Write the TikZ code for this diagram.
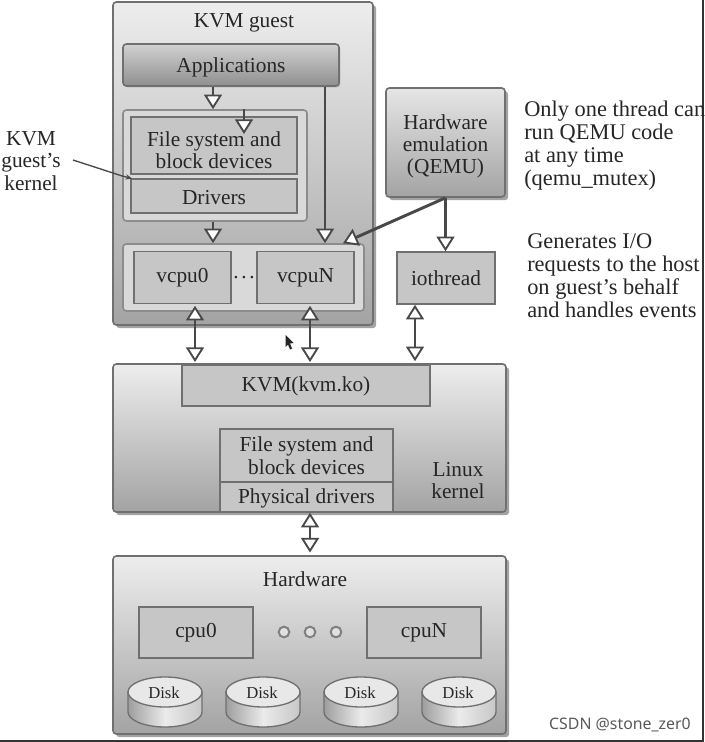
\documentclass[tikz,border=0pt]{standalone}
\usepackage{fontspec}
\setmainfont{Liberation Serif}
\setsansfont{Noto Sans}
\usetikzlibrary{arrows.meta,shadows}
\definecolor{edge}{HTML}{707070}
\definecolor{wire}{HTML}{484848}
\definecolor{inner}{HTML}{C6C6C6}
\tikzset{
  x=0.75pt,y=-0.75pt,
  opentip/.tip={Triangle[open,fill=white,length=11pt,width=13.5pt,line width=1.4pt]},
  lbl/.style={font=\fontsize{16}{16.8}\selectfont,text=black!85,align=center,inner sep=0pt},
  note/.style={font=\fontsize{16.8}{17.2}\selectfont,text=black!85,align=left,inner sep=0pt,anchor=north west},
  boxbase/.style={draw=edge,line width=1.2pt,inner sep=0pt,font=\fontsize{16}{16.8}\selectfont,text=black!85,align=center},
  sized/.style n args={2}{minimum width=#1*0.75pt,minimum height=#2*0.75pt},
  strutted/.style={execute at begin node={\rule{0pt}{#1}}},
  outerbox/.style={boxbase,rounded corners=2.5pt,top color=#1,bottom color=black!36,
    drop shadow={shadow xshift=2.4pt,shadow yshift=-2.4pt,fill=black!55,opacity=.65}},
  outerbox/.default=black!7,
  groupbox/.style={boxbase,rounded corners=2.5pt,fill=black!15,draw=black!45},
  flatbox/.style={boxbase,fill=inner},
  link/.style={draw=wire,line width=2.2pt,-opentip},
  duplex/.style={draw=wire,line width=2.2pt,opentip-opentip},
  thinlink/.style={draw=wire,line width=1pt,-{Stealth[length=5pt,width=4pt]}},
  port/.style={circle,draw=black!50,fill=black!12,line width=1.5pt,minimum size=8pt,inner sep=0pt},
}
\begin{document}
\begin{tikzpicture}
\useasboundingbox (0,0) rectangle (704,742);
\fill[white] (0,0) rectangle (704,742);
% frame edges of the screen capture
\fill[black!80] (702,0) rectangle (704,742);
\fill[black!80] (0,739.5) rectangle (704,742);

% KVM guest
\node[outerbox,sized={260}{323}] (guest) at (243,163.5) {};
\node[lbl] (guesttitle) at (244,23) {KVM guest};
\node[boxbase,strutted=14pt,rounded corners=2.5pt,top color=black!18,bottom color=black!44,sized={216}{42},
  drop shadow={shadow xshift=1pt,shadow yshift=-1pt,fill=black!45,opacity=.5}] (apps) at (231,65) {Applications};
\node[groupbox,sized={184}{111}] (kgroup) at (215,165.5) {};
\node[flatbox,sized={166}{57}] (fs) at (214,145.5) {\rule{0pt}{18.5pt}File system and\\block devices};
\node[flatbox,strutted=12.5pt,sized={166}{34}] (drv) at (214,196) {Drivers};
\node[groupbox,sized={241}{67}] (vgroup) at (243.5,277.5) {};
\node[flatbox,sized={97}{52}] (v0) at (182.5,277.5) {vcpu0};
\node[flatbox,sized={97}{52}] (vn) at (305.5,277.5) {vcpuN};
\node[lbl] (vdots) at (244,278) {.\hspace{2pt}.\hspace{2pt}.};

% QEMU, iothread
\node[outerbox=black!10,sized={119}{109}] (qemu) at (445.5,142.5) {\rule{0pt}{17pt}Hardware\\emulation\\(QEMU)};
\node[flatbox,sized={98}{52}] (io) at (446,278) {iothread};

% Host kernel
\node[outerbox,sized={393}{148}] (kvm) at (309.5,438) {};
\node[flatbox,strutted=12.5pt,sized={248}{41},anchor=north] (ko) at (306,364) {KVM(kvm.ko)};
\node[flatbox,sized={173}{53}] (hfs) at (306.5,455.5) {File system and\\block devices};
\node[flatbox,strutted=12.5pt,sized={173}{30}] (phys) at (306.5,497) {Physical drivers};
\node[lbl] (linux) at (458,480.5) {Linux\\kernel};

% Hardware
\node[outerbox,sized={393}{178}] (hw) at (309.5,645) {};
\node[lbl] (hwtitle) at (305,579) {Hardware};
\node[flatbox,sized={114}{51}] (c0) at (196,632.5) {cpu0};
\node[flatbox,sized={114}{51}] (cn) at (424,632.5) {cpuN};
\node[port] (d1) at (284,632) {};
\node[port] (d2) at (310,632) {};
\node[port] (d3) at (336,632) {};
\foreach \cx/\nm in {165/a,263/b,361/c,459/d}{
  \draw[draw=edge,line width=1pt,left color=black!38,right color=black!22,middle color=black!8]
    (\cx-37,692) -- (\cx-37,712) arc[start angle=180,end angle=0,x radius=37,y radius=15] -- (\cx+37,692) -- cycle;
  \draw[draw=edge,line width=1pt,fill=black!9] (\cx,692) ellipse[x radius=37,y radius=15];
  \node[font=\fontsize{12.5}{13}\selectfont,text=black!85,inner sep=0pt] (disk\nm) at (\cx-1,693) {Disk};
}

% Connectors
\draw[link] (213,0 |- apps.south) -- (213,0 |- kgroup.north);
\draw[link] (244,0 |- kgroup.north) -- (244,134);
\draw[link] (213,0 |- kgroup.south) -- (213,0 |- vgroup.north);
\draw[link] (325,0 |- apps.south) -- (325,0 |- vgroup.north);
\draw[link] (qemu.south) -- (343,0 |- vgroup.north);
\draw[link] (qemu.south) -- (qemu.south |- io.north);
\draw[duplex,shorten <=-4.5pt,shorten >=1.5pt] (195,0 |- vgroup.south) -- (195,0 |- ko.north);
\draw[duplex,shorten <=-4.5pt,shorten >=1.5pt] (310,0 |- vgroup.south) -- (310,0 |- ko.north);
\draw[duplex,shorten >=1.5pt] (415,0 |- io.south) -- (415,0 |- kvm.north);
\draw[duplex,shorten >=2pt] (310,0 |- kvm.south) -- (310,0 |- hw.north);

% Side labels
\node[lbl] (kk) at (31,161) {KVM\\guest's\\kernel};
\coordinate (kkstart) at (73,160);
\draw[thinlink] (kkstart) -- (kgroup.west |- 0,176) -- ++(10,2.6);

\node[note] (n1) at (524,100.5) {Only one thread can\\run QEMU code\\at any time\\(qemu\_mutex)};
\node[note] (n2) at (527,233.5) {Generates I/O\\requests to the host\\on guest's behalf\\and handles events};

% Pointer
\fill[black!85] (285.5,335) -- (285.5,347) -- (288,344.5) -- (290,349.5) -- (292,348.5) -- (290,343.5) -- (293.5,343) -- cycle;

% Watermark
\node[font=\fontsize{11.9}{13}\selectfont\sffamily,text=black!65,anchor=east,inner sep=0pt] (mark) at (691,725) {CSDN @stone\_zer0};
\end{tikzpicture}
\end{document}
